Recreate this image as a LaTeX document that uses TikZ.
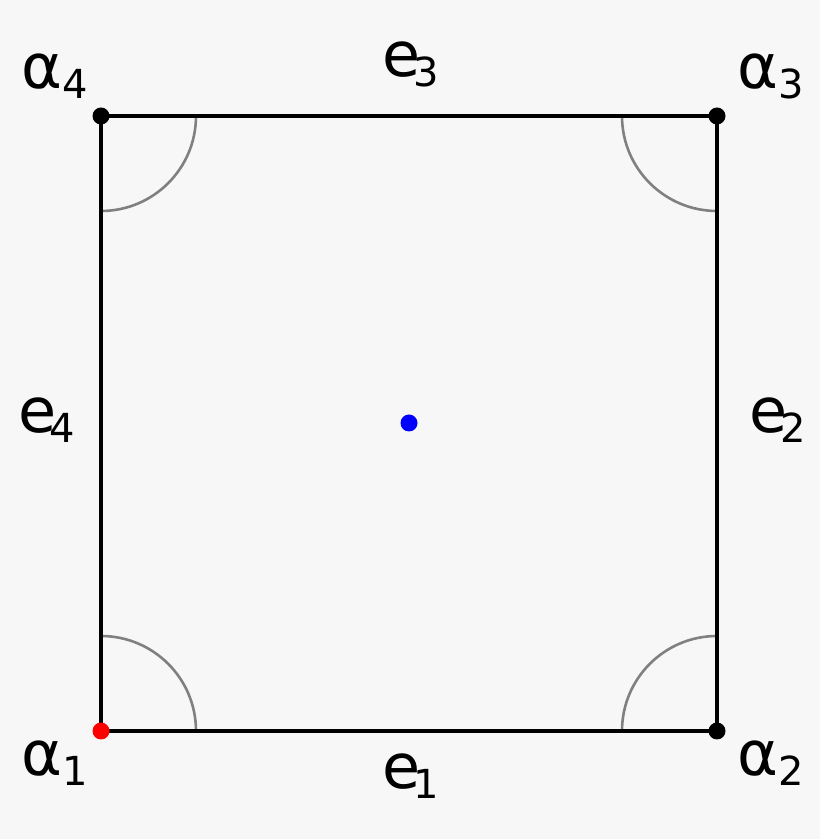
\documentclass[tikz,border=0pt]{standalone}
\usepackage{fontspec}
\setmainfont{DejaVu Sans}
\usepackage{xcolor}
\definecolor{bg}{HTML}{F7F7F7}
\newcommand{\lab}[3]{#1\kern#2\raisebox{-10pt}{\fontsize{40}{40}\selectfont #3}}

\begin{document}
\begin{tikzpicture}[x=1pt, y=1pt,
    side/.style={line width=3.2pt},
    anglearc/.style={line width=2.6pt, draw=gray},
    lbl/.style={inner sep=0pt, anchor=base west, font=\fontsize{62}{62}\selectfont},
    vdot/.style={circle, inner sep=0pt, minimum size=17pt}]
    \fill[bg] (0,0) rectangle (820,839);
    \useasboundingbox (0,0) rectangle (820,839);

    \coordinate (a1) at (101,108);
    \coordinate (a2) at (717,108);
    \coordinate (a3) at (717,723);
    \coordinate (a4) at (101,723);

    \foreach \c/\a in {a1/0, a2/90, a3/180, a4/270}
    \draw[anglearc] (\c) ++(\a:95) arc[start angle=\a, end angle=\a+90, radius=95];

    \draw[side] (a1) -- (a2) -- (a3) -- (a4) -- cycle;

    \node[vdot, fill=red] (v1) at (a1) {};
    \foreach \c in {a2,a3,a4}
    \node[vdot, fill=black] (v\c) at (\c) {};
    \node[vdot, fill=blue] (c) at (409,416) {};

    % vertices
    \node[lbl] (l1) at (21,63) {\lab{α}{0pt}{1}};
    \node[lbl] (l2) at (737,63) {\lab{α}{0pt}{2}};
    \node[lbl] (l3) at (737,750) {\lab{α}{0pt}{3}};
    \node[lbl] (l4) at (21,750) {\lab{α}{0pt}{4}};
    % edges
    \node[lbl] (e1) at (382,50) {\lab{e}{-7pt}{1}};
    \node[lbl] (e2) at (749,406) {\lab{e}{-7pt}{2}};
    \node[lbl] (e3) at (382,762) {\lab{e}{-7pt}{3}};
    \node[lbl] (e4) at (18,406) {\lab{e}{-7pt}{4}};
\end{tikzpicture}
\end{document}
